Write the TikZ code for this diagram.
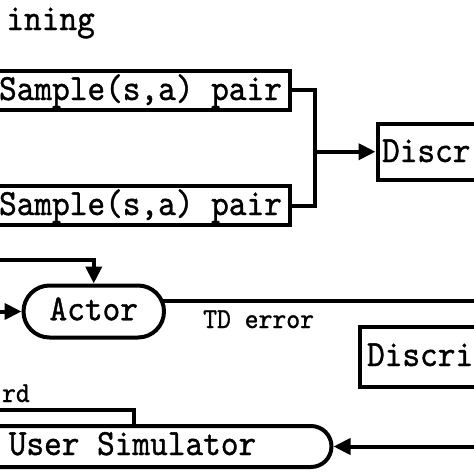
\documentclass[tikz,border=0pt]{standalone}
\usepackage{fontspec}
\newfontfamily\diafont{lmmono10-regular}[Extension=.otf,FakeStretch=0.91,FakeBold=1]
\usetikzlibrary{arrows.meta,shapes.misc,calc}
\begin{document}
\begin{tikzpicture}[x=1pt,y=-1pt,
  conn/.style={line width=4pt},
  arr/.style={line width=4pt,-{Triangle[length=17pt,width=16pt]}},
  bigtext/.style={font=\diafont\fontsize{37}{40}\selectfont},
  smalltext/.style={font=\diafont\fontsize{29}{32}\selectfont},
  box/.style={draw,line width=4pt,rectangle,inner sep=0pt,bigtext,text depth=0pt},
  pill/.style={draw,line width=4pt,rounded rectangle,inner sep=0pt,bigtext,text depth=0pt},
  lbl/.style={inner sep=0pt,smalltext}]
\useasboundingbox (0,0) rectangle (474,474);
\fill[white] (0,0) rectangle (474,474);
\clip (0,0) rectangle (474,474);

\node[inner sep=0pt,bigtext,anchor=base east] (title) at (95,30) {\phantom{Tra}ining};
\node[box,minimum width=302pt,minimum height=39pt,text height=20pt] (s1) at (139,90) {\hspace*{3pt}Sample(s,a) pair};
\node[box,minimum width=302pt,minimum height=39pt,text height=19pt] (s2) at (139,205.5) {\hspace*{3pt}Sample(s,a) pair};
\node[box,minimum width=239pt,minimum height=56.5pt,text height=20.5pt] (d1) at (497,151.75) {Discr\phantom{iminator}};
\node[box,minimum width=244pt,minimum height=60pt,text height=18pt] (d2) at (482,357) {Discri\phantom{minator}};
\node[pill,minimum width=140.5pt,minimum height=52pt,text height=17.5pt] (actor) at (93.75,311.5) {Actor};
\node[pill,minimum width=398pt,minimum height=41pt,text height=17pt] (us) at (132.5,446.5) {User Simulator};

\coordinate (mid) at (314.5,151.75);
\draw[conn] (s1.east) -| (mid) |- (s2.east);
\draw[arr] (mid) -- (d1.west);
\coordinate (inL) at (-10,311.5);
\draw[arr] (inL) -- (actor.west);
\coordinate (topL) at (-10,260);
\draw[arr] (topL) -| (actor.north);
\coordinate (outR) at (490,301);
\draw[conn] ($(actor.east |- outR)+(-4,0)$) -- (outR);
\node[lbl,anchor=base west] (td) at (203,328) {TD error};
\coordinate (rwL) at (-10,409.5);
\coordinate (rwT) at (134,409.5);
\draw[conn] (rwL) -- (rwT) -- (rwT |- us.north);
\node[lbl,anchor=base east] (rw) at (30,402) {\phantom{Rewa}rd};
\coordinate (inR) at (490,446.5);
\draw[arr] (inR) -- (us.east);
\end{tikzpicture}
\end{document}
